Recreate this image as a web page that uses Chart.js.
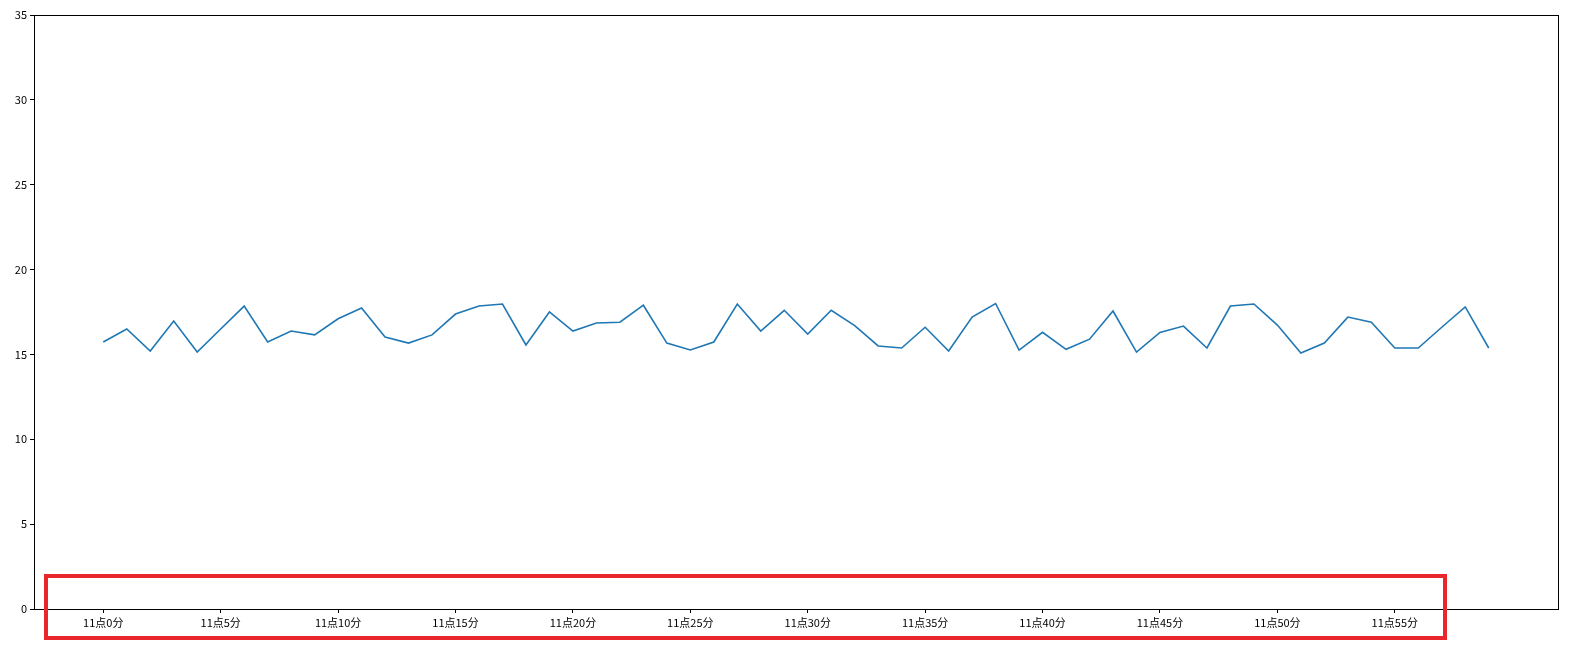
<!DOCTYPE html>
<html>
<head>
<meta charset="utf-8">
<script src="https://cdn.jsdelivr.net/npm/chart.js@4"></script>
<style>
  html, body { margin: 0; padding: 0; background: #fff; overflow: hidden; }
  canvas { display: block; }
</style>
</head>
<body>
<canvas id="c" width="1593" height="651" style="width:1593px;height:651px"></canvas>
<script>
// minutes of 11 o'clock, one point per minute
const minutes = []
for (let m = 0; m < 60; m++) minutes.push(m)
const categories = minutes.map(m => `11点${m}分`)

const values = [
  15.73, 16.5, 15.2, 16.97, 15.14, 16.5, 17.85, 15.73, 16.38, 16.15,
  17.1, 17.74, 16.03, 15.67, 16.15, 17.38, 17.85, 17.97, 15.56, 17.5,
  16.38, 16.85, 16.9, 17.9, 15.67, 15.26, 15.73, 17.97, 16.38, 17.6,
  16.2, 17.6, 16.7, 15.5, 15.38, 16.6, 15.2, 17.2, 18.0, 15.26,
  16.3, 15.3, 15.9, 17.56, 15.14, 16.3, 16.67, 15.38, 17.85, 17.97,
  16.73, 15.08, 15.67, 17.2, 16.9, 15.38, 15.38, 16.6, 17.8, 15.38
]
const yTicks = [0, 5, 10, 15, 20, 25, 30, 35]

const frame = {
  id: 'frame',
  afterDraw(chart) {
    const { ctx, chartArea: a } = chart
    ctx.save()
    ctx.strokeStyle = '#000'
    ctx.lineWidth = 1
    ctx.strokeRect(a.left + 0.5, a.top + 0.5, a.right - a.left, a.bottom - a.top)
    // red highlight box around the x labels
    ctx.strokeStyle = '#e8262b'
    ctx.lineWidth = 4
    ctx.strokeRect(46, 576, 1399, 62)
    ctx.restore()
  }
}

new Chart(document.getElementById('c'), {
  type: 'line',
  data: {
    datasets: [{
      data: values.map((v, i) => ({ x: minutes[i], y: v })),
      borderColor: '#1f77b4',
      borderWidth: 1.6,
      pointRadius: 0,
      tension: 0,
      fill: false
    }]
  },
  options: {
    responsive: false,
    devicePixelRatio: 1,
    animation: false,
    layout: { padding: { top: 15, right: 35, left: 0, bottom: 0 } },
    plugins: { legend: { display: false }, tooltip: { enabled: false } },
    scales: {
      x: {
        type: 'linear',
        min: -2.95,
        max: 61.95,
        afterFit: s => { s.height = 42 },
        afterBuildTicks: s => { s.ticks = minutes.filter(m => m % 5 === 0).map(m => ({ value: m })) },
        grid: { display: true, drawOnChartArea: false, drawTicks: true, tickLength: 4, color: '#000' },
        border: { display: false },
        ticks: {
          color: '#000',
          font: { family: '"Noto Sans CJK SC"', size: 11 },
          maxRotation: 0,
          padding: 3,
          callback: v => categories[v]
        }
      },
      y: {
        min: 0,
        max: 35,
        afterFit: s => { s.width = 34 },
        afterBuildTicks: s => { s.ticks = yTicks.map(v => ({ value: v })) },
        grid: { display: true, drawOnChartArea: false, drawTicks: true, tickLength: 4, color: '#000' },
        border: { display: false },
        ticks: {
          color: '#000',
          font: { family: '"Noto Sans CJK SC"', size: 11 },
          padding: 3
        }
      }
    }
  },
  plugins: [frame]
})
</script>
</body>
</html>
